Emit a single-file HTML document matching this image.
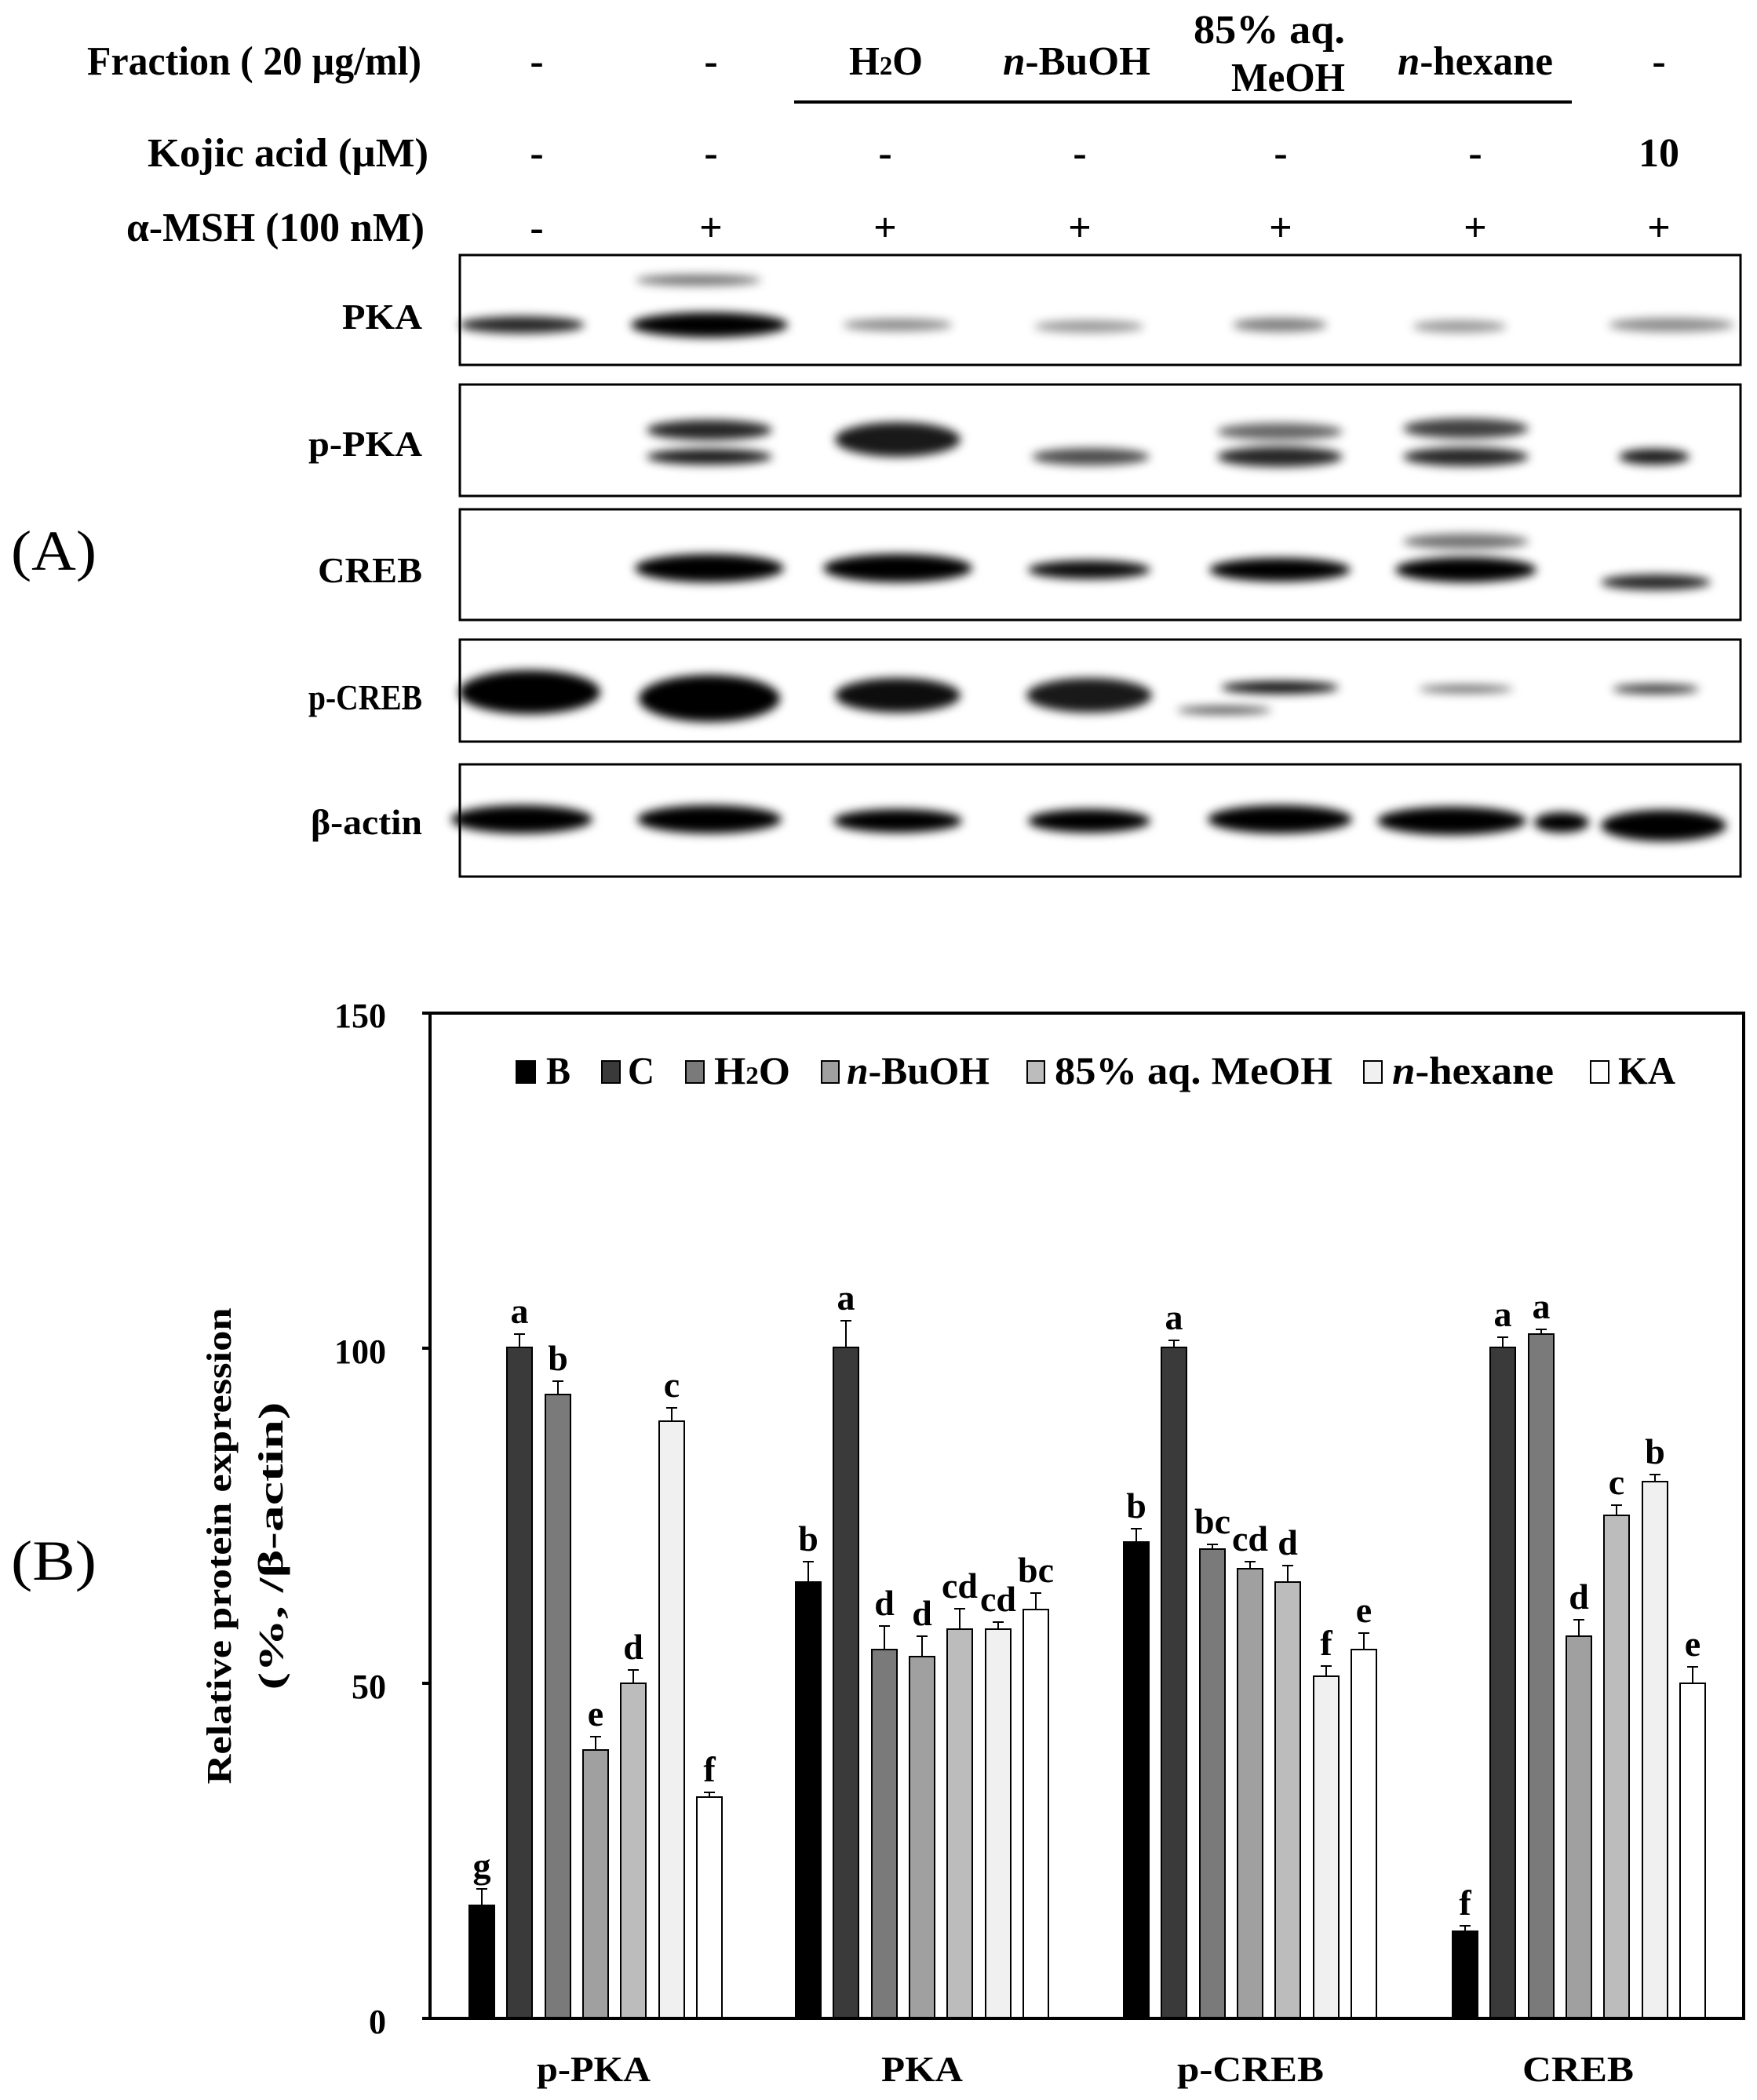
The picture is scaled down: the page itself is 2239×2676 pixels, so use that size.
<!DOCTYPE html>
<html><head><meta charset="utf-8"><style>
html,body{margin:0;padding:0;background:#fff;}
svg{display:block;}
text{font-family:"Liberation Serif",serif;font-weight:bold;fill:#000;}
</style></head><body>
<svg width="2239" height="2676" viewBox="0 0 2239 2676" xmlns="http://www.w3.org/2000/svg">
<defs>
<filter id="bl" x="-20%" y="-100%" width="140%" height="300%"><feGaussianBlur stdDeviation="6"/></filter>
</defs>
<rect width="2239" height="2676" fill="#fff"/>

<!-- Header -->
<g font-size="52">
<text x="111" y="95" textLength="426" lengthAdjust="spacingAndGlyphs">Fraction ( 20 µg/ml)</text>
<text x="188" y="212" textLength="358" lengthAdjust="spacingAndGlyphs">Kojic  acid (µM)</text>
<text x="161" y="307" textLength="380" lengthAdjust="spacingAndGlyphs">α-MSH (100 nM)</text>
<g text-anchor="middle">
<text x="684" y="95">-</text><text x="906" y="95">-</text>
<text x="1082" y="95" text-anchor="start" textLength="94" lengthAdjust="spacingAndGlyphs">H<tspan font-size="34">2</tspan>O</text>
<text x="1278" y="95" text-anchor="start" textLength="188" lengthAdjust="spacingAndGlyphs"><tspan font-style="italic">n</tspan>-BuOH</text>
<text x="1521" y="55" text-anchor="start" textLength="193" lengthAdjust="spacingAndGlyphs">85% aq.</text>
<text x="1569" y="116" text-anchor="start" textLength="145" lengthAdjust="spacingAndGlyphs">MeOH</text>
<text x="1781" y="95" text-anchor="start" textLength="198" lengthAdjust="spacingAndGlyphs"><tspan font-style="italic">n</tspan>-hexane</text>
<text x="2114" y="95">-</text>
<text x="684" y="212">-</text><text x="906" y="212">-</text><text x="1128" y="212">-</text><text x="1376" y="212">-</text><text x="1632" y="212">-</text><text x="1880" y="212">-</text><text x="2114" y="212">10</text>
<text x="684" y="307">-</text><text x="906" y="307">+</text><text x="1128" y="307">+</text><text x="1376" y="307">+</text><text x="1632" y="307">+</text><text x="1880" y="307">+</text><text x="2114" y="307">+</text>
</g>
</g>
<line x1="1012" y1="130" x2="2003" y2="130" stroke="#000" stroke-width="4"/>

<!-- Blot labels -->
<g font-size="46">
<text x="436" y="419" textLength="102" lengthAdjust="spacingAndGlyphs">PKA</text>
<text x="393" y="581" textLength="145" lengthAdjust="spacingAndGlyphs">p-PKA</text>
<text x="405" y="742" textLength="133" lengthAdjust="spacingAndGlyphs">CREB</text>
<text x="393" y="904" textLength="145" lengthAdjust="spacingAndGlyphs">p-CREB</text>
<text x="396" y="1063" textLength="142" lengthAdjust="spacingAndGlyphs">β-actin</text>
</g>
<text x="14" y="726" font-size="72" style="font-weight:normal" textLength="109" lengthAdjust="spacingAndGlyphs">(A)</text>

<!-- Blots -->
<g filter="url(#bl)" fill="#000">
<ellipse cx="665" cy="414" rx="80" ry="11" opacity="0.85"/>
<ellipse cx="904" cy="414" rx="100" ry="16"/>
<ellipse cx="890" cy="357" rx="80" ry="7" opacity="0.55"/>
<ellipse cx="1144" cy="414" rx="70" ry="8" opacity="0.45"/>
<ellipse cx="1388" cy="416" rx="70" ry="8" opacity="0.4"/>
<ellipse cx="1631" cy="414" rx="60" ry="9" opacity="0.5"/>
<ellipse cx="1860" cy="416" rx="60" ry="8" opacity="0.4"/>
<ellipse cx="2130" cy="414" rx="80" ry="9" opacity="0.45"/>
<ellipse cx="904" cy="548" rx="80" ry="13" opacity="0.85"/>
<ellipse cx="904" cy="582" rx="80" ry="10" opacity="0.9"/>
<ellipse cx="1144" cy="560" rx="80" ry="22" opacity="0.9"/>
<ellipse cx="1390" cy="582" rx="75" ry="11" opacity="0.7"/>
<ellipse cx="1631" cy="550" rx="80" ry="11" opacity="0.6"/>
<ellipse cx="1631" cy="582" rx="80" ry="13" opacity="0.85"/>
<ellipse cx="1868" cy="546" rx="80" ry="13" opacity="0.75"/>
<ellipse cx="1868" cy="582" rx="80" ry="12" opacity="0.85"/>
<ellipse cx="2108" cy="582" rx="45" ry="10" opacity="0.9"/>
<ellipse cx="904" cy="724" rx="95" ry="18"/>
<ellipse cx="1144" cy="724" rx="95" ry="18"/>
<ellipse cx="1388" cy="726" rx="78" ry="12" opacity="0.95"/>
<ellipse cx="1631" cy="726" rx="90" ry="15"/>
<ellipse cx="1868" cy="726" rx="90" ry="16"/>
<ellipse cx="1868" cy="690" rx="80" ry="10" opacity="0.55"/>
<ellipse cx="2110" cy="742" rx="70" ry="10" opacity="0.85"/>
<ellipse cx="675" cy="882" rx="90" ry="28"/>
<ellipse cx="904" cy="890" rx="90" ry="30"/>
<ellipse cx="1144" cy="886" rx="80" ry="22" opacity="0.95"/>
<ellipse cx="1388" cy="886" rx="80" ry="22" opacity="0.9"/>
<ellipse cx="1631" cy="876" rx="75" ry="8" opacity="0.95"/>
<ellipse cx="1560" cy="905" rx="60" ry="5" opacity="0.7"/>
<ellipse cx="1868" cy="878" rx="60" ry="5" opacity="0.6"/>
<ellipse cx="2110" cy="878" rx="55" ry="6" opacity="0.8"/>
<ellipse cx="665" cy="1044" rx="90" ry="18"/>
<ellipse cx="904" cy="1044" rx="92" ry="18"/>
<ellipse cx="1144" cy="1046" rx="82" ry="15"/>
<ellipse cx="1388" cy="1046" rx="78" ry="15"/>
<ellipse cx="1631" cy="1044" rx="92" ry="18"/>
<ellipse cx="1850" cy="1046" rx="95" ry="18"/>
<ellipse cx="1990" cy="1048" rx="35" ry="13"/>
<ellipse cx="2120" cy="1052" rx="80" ry="20"/>
</g>
<g fill="none" stroke="#000" stroke-width="3">
<rect x="586" y="325" width="1632" height="140"/>
<rect x="586" y="490" width="1632" height="142"/>
<rect x="586" y="649" width="1632" height="141"/>
<rect x="586" y="815" width="1632" height="130"/>
<rect x="586" y="974" width="1632" height="143"/>
</g>

<!-- Chart B -->
<text x="14" y="2013" font-size="72" style="font-weight:normal" textLength="109" lengthAdjust="spacingAndGlyphs">(B)</text>
<g font-size="44" text-anchor="end">
<text x="492" y="1309">150</text>
<text x="492" y="1737">100</text>
<text x="492" y="2164">50</text>
<text x="492" y="2591">0</text>
</g>
<g font-size="44" text-anchor="middle">
<text transform="translate(294,1970) rotate(-90)" textLength="607" lengthAdjust="spacingAndGlyphs">Relative protein expression</text>
<text transform="translate(360,1970) rotate(-90)" textLength="367" lengthAdjust="spacingAndGlyphs">(%, /β-actin)</text>
</g>

<!-- legend -->
<g stroke="#000" stroke-width="2">
<rect x="658" y="1352" width="24" height="28" fill="#000"/>
<rect x="767" y="1352" width="23" height="28" fill="#3a3a3a"/>
<rect x="874" y="1352" width="23" height="28" fill="#7a7a7a"/>
<rect x="1047" y="1352" width="22" height="28" fill="#a0a0a0"/>
<rect x="1309" y="1352" width="22" height="28" fill="#bcbcbc"/>
<rect x="1738" y="1352" width="23" height="28" fill="#f0f0f0"/>
<rect x="2027" y="1352" width="23" height="28" fill="#fff"/>
</g>
<g font-size="50">
<text x="696" y="1381" textLength="31" lengthAdjust="spacingAndGlyphs">B</text>
<text x="800" y="1381" textLength="34" lengthAdjust="spacingAndGlyphs">C</text>
<text x="910" y="1381" textLength="97" lengthAdjust="spacingAndGlyphs">H<tspan font-size="32">2</tspan>O</text>
<text x="1079" y="1381" textLength="182" lengthAdjust="spacingAndGlyphs"><tspan font-style="italic">n</tspan>-BuOH</text>
<text x="1344" y="1381" textLength="354" lengthAdjust="spacingAndGlyphs">85% aq. MeOH</text>
<text x="1774" y="1381" textLength="206" lengthAdjust="spacingAndGlyphs"><tspan font-style="italic">n</tspan>-hexane</text>
<text x="2062" y="1381" textLength="73" lengthAdjust="spacingAndGlyphs">KA</text>
</g>

<!-- bars -->
<g stroke="#000" stroke-width="2">
<rect x="598" y="2428" width="32" height="144" fill="#000"/>
<rect x="646" y="1717" width="32" height="855" fill="#3a3a3a"/>
<rect x="695" y="1777" width="32" height="795" fill="#7a7a7a"/>
<rect x="743" y="2230" width="32" height="342" fill="#a0a0a0"/>
<rect x="791" y="2145" width="32" height="427" fill="#bcbcbc"/>
<rect x="840" y="1811" width="32" height="761" fill="#f0f0f0"/>
<rect x="888" y="2290" width="32" height="282" fill="#fff"/>

<rect x="1014" y="2016" width="32" height="556" fill="#000"/>
<rect x="1062" y="1717" width="32" height="855" fill="#3a3a3a"/>
<rect x="1111" y="2102" width="32" height="470" fill="#7a7a7a"/>
<rect x="1159" y="2111" width="32" height="461" fill="#a0a0a0"/>
<rect x="1207" y="2076" width="32" height="496" fill="#bcbcbc"/>
<rect x="1256" y="2076" width="32" height="496" fill="#f0f0f0"/>
<rect x="1304" y="2051" width="32" height="521" fill="#fff"/>

<rect x="1432" y="1965" width="32" height="607" fill="#000"/>
<rect x="1480" y="1717" width="32" height="855" fill="#3a3a3a"/>
<rect x="1529" y="1974" width="32" height="598" fill="#7a7a7a"/>
<rect x="1577" y="1999" width="32" height="573" fill="#a0a0a0"/>
<rect x="1625" y="2016" width="32" height="556" fill="#bcbcbc"/>
<rect x="1674" y="2136" width="32" height="436" fill="#f0f0f0"/>
<rect x="1722" y="2102" width="32" height="470" fill="#fff"/>

<rect x="1851" y="2461" width="32" height="111" fill="#000"/>
<rect x="1899" y="1717" width="32" height="855" fill="#3a3a3a"/>
<rect x="1948" y="1700" width="32" height="872" fill="#7a7a7a"/>
<rect x="1996" y="2085" width="32" height="487" fill="#a0a0a0"/>
<rect x="2044" y="1931" width="32" height="641" fill="#bcbcbc"/>
<rect x="2093" y="1888" width="32" height="684" fill="#f0f0f0"/>
<rect x="2141" y="2145" width="32" height="427" fill="#fff"/>
</g>
<path fill="none" stroke="#000" stroke-width="2" d="
M614 2428V2407M607 2407H621
M662 1717V1700M655 1700H669
M711 1777V1760M704 1760H718
M759 2230V2213M752 2213H766
M807 2145V2128M800 2128H814
M856 1811V1794M849 1794H863
M904 2290V2284M897 2284H911
M1030 2016V1990M1023 1990H1037
M1078 1717V1683M1071 1683H1085
M1127 2102V2072M1120 2072H1134
M1175 2111V2085M1168 2085H1182
M1223 2076V2050M1216 2050H1230
M1272 2076V2067M1265 2067H1279
M1320 2051V2030M1313 2030H1327
M1448 1965V1948M1441 1948H1455
M1496 1717V1708M1489 1708H1503
M1545 1974V1968M1538 1968H1552
M1593 1999V1990M1586 1990H1600
M1641 2016V1995M1634 1995H1648
M1690 2136V2123M1683 2123H1697
M1738 2102V2081M1731 2081H1745
M1867 2461V2454M1860 2454H1874
M1915 1717V1704M1908 1704H1922
M1964 1700V1694M1957 1694H1971
M2012 2085V2064M2005 2064H2019
M2060 1931V1918M2053 1918H2067
M2109 1888V1879M2102 1879H2116
M2157 2145V2124M2150 2124H2164"/>
<g font-size="46" text-anchor="middle">
<text x="614" y="2393">g</text><text x="662" y="1686">a</text><text x="711" y="1746">b</text><text x="759" y="2199">e</text><text x="807" y="2114">d</text><text x="856" y="1780">c</text><text x="904" y="2270">f</text>
<text x="1030" y="1976">b</text><text x="1078" y="1669">a</text><text x="1127" y="2058">d</text><text x="1175" y="2071">d</text><text x="1223" y="2036">cd</text><text x="1272" y="2053">cd</text><text x="1320" y="2016">bc</text>
<text x="1448" y="1934">b</text><text x="1496" y="1694">a</text><text x="1545" y="1954">bc</text><text x="1593" y="1976">cd</text><text x="1641" y="1981">d</text><text x="1690" y="2109">f</text><text x="1738" y="2067">e</text>
<text x="1867" y="2440">f</text><text x="1915" y="1690">a</text><text x="1964" y="1680">a</text><text x="2012" y="2050">d</text><text x="2060" y="1904">c</text><text x="2109" y="1865">b</text><text x="2157" y="2110">e</text>
</g>

<g stroke="#000" stroke-width="4" fill="none">
<path d="M548 1291V2572H2222V1291H548"/>
<path d="M538 1291H548M538 1718H548M538 2145H548M538 2572H548"/>
</g>
<g font-size="46">
<text x="684" y="2652" textLength="145" lengthAdjust="spacingAndGlyphs">p-PKA</text>
<text x="1123" y="2652" textLength="104" lengthAdjust="spacingAndGlyphs">PKA</text>
<text x="1500" y="2652" textLength="187" lengthAdjust="spacingAndGlyphs">p-CREB</text>
<text x="1940" y="2652" textLength="142" lengthAdjust="spacingAndGlyphs">CREB</text>
</g>
</svg>
</body></html>
